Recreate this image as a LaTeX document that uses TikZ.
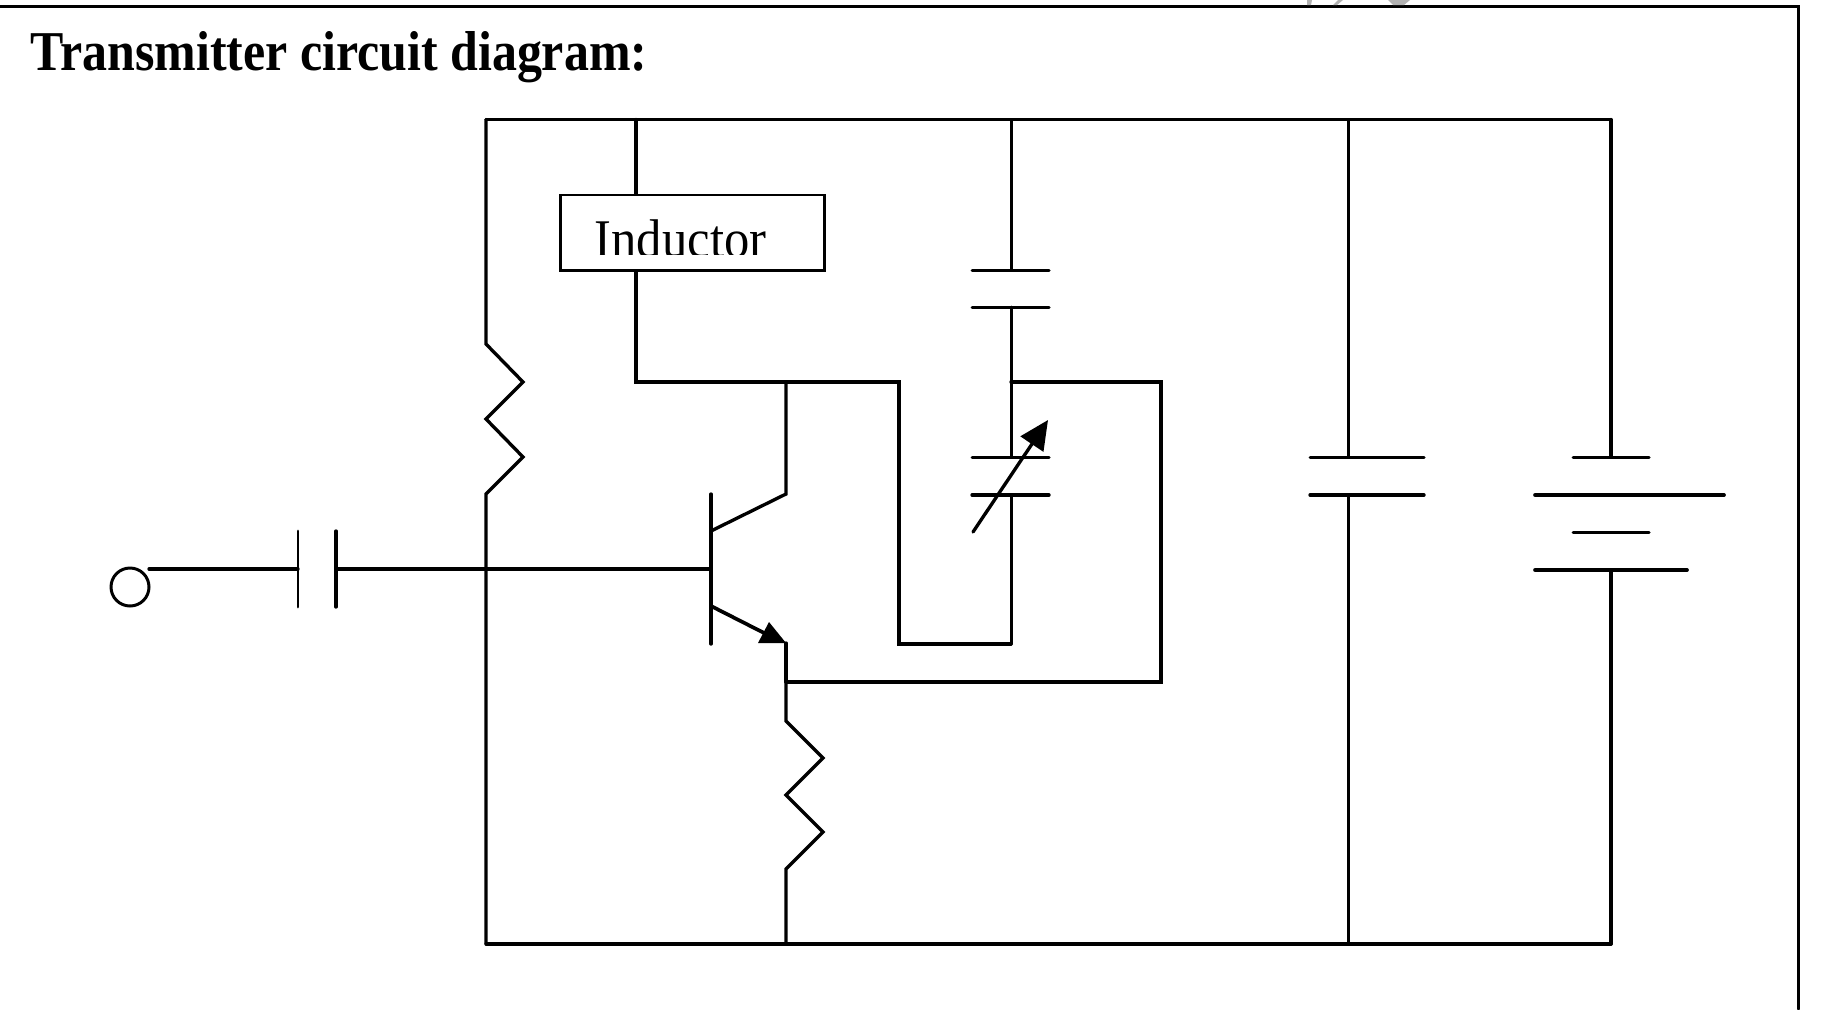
\documentclass[tikz,border=0pt]{standalone}
\usepackage{fontspec}
\setmainfont{Liberation Serif}
\newfontfamily\titlefont[FakeStretch=0.888]{Liberation Serif}
\newfontfamily\boxfont[FakeStretch=0.93]{Liberation Serif}
\usetikzlibrary{arrows.meta}

\tikzset{
  wire/.style={line width=0.95pt,line cap=round,line join=miter},
  thinwire/.style={line width=0.85pt,line cap=round},
  fatplate/.style={line width=1.05pt,line cap=round},
  head/.style={-{Triangle[length=0.29cm,width=0.27cm]}}
}

\begin{document}
\begin{tikzpicture}
        \useasboundingbox (0,0) rectangle (18.45,10.09);

        % outer frame, cut by the page
        \coordinate (frameL) at (0,10.025);
        \coordinate (frameC) at (17.985,10.025);
        \coordinate (frameB) at (17.985,0);
        \draw[wire] (frameL) -- (frameC) -- (frameB);

        % scrap of a mark above the frame
        \fill[black!30] (13.07,10.09) -- (13.12,10.09) -- (13.11,10.04) -- (13.07,10.04) -- cycle;
        \fill[black!30] (13.38,10.09) -- (13.43,10.09) -- (13.37,10.04) -- (13.33,10.04) -- cycle;
        \fill[black!30] (13.88,10.09) -- (14.10,10.09) -- (14.04,10.04) -- (13.93,10.04) -- cycle;

        % corners and junctions
        \coordinate (topL) at (4.86,8.895);
        \coordinate (topI) at (6.36,8.895);
        \coordinate (topC) at (10.11,8.895);
        \coordinate (topK) at (13.48,8.895);
        \coordinate (topR) at (16.11,8.895);
        \coordinate (botL) at (4.86,0.65);
        \coordinate (botE) at (7.86,0.65);
        \coordinate (botK) at (13.48,0.65);
        \coordinate (botR) at (16.11,0.65);
        \coordinate (baseJ) at (4.86,4.40);
        \coordinate (collJ) at (7.86,6.27);
        \coordinate (indL) at (6.36,6.27);
        \coordinate (loopT) at (8.99,6.27);
        \coordinate (loopB) at (8.99,3.65);
        \coordinate (capJ) at (10.11,6.27);
        \coordinate (capB) at (10.11,3.65);
        \coordinate (tankT) at (11.61,6.27);
        \coordinate (tankB) at (11.61,3.27);
        \coordinate (emitJ) at (7.86,3.27);

        \node[draw,thinwire,minimum width=2.64cm,minimum height=0.75cm,inner sep=0pt] (inductor) at (6.92,7.765) {};
        \begin{scope}
          \clip (5.80,7.55) rectangle (7.90,8.20);
          \node[anchor=base west,inner sep=0pt,font=\boxfont\fontsize{15.5}{15.5}\selectfont] (inductorlabel) at (5.94,7.52) {Inductor};
        \end{scope}
        \node[anchor=base west,inner sep=0pt,font=\titlefont\bfseries\fontsize{16}{16}\selectfont] (heading) at (0.30,9.39) {Transmitter circuit diagram:};

        % supply rails
        \draw[wire] (topL) -- (topR);
        \draw[wire] (botL) -- (botR);

        % left resistor
        \draw[wire] (topL) -- (4.86,6.65) -- (5.23,6.27) -- (4.86,5.90) -- (5.23,5.52) -- (4.86,5.15) -- (baseJ) -- (botL);

        % inductor branch
        \draw[wire] (topI) -- (inductor.north -| topI);
        \draw[wire] (inductor.south -| topI) -- (indL) -- (loopT) -- (loopB) -- (capB);

        % input
        \node[draw,thinwire,circle,minimum size=0.38cm,inner sep=0pt] (input) at (1.30,4.22) {};
        \coordinate (inEnd) at (1.49,4.40);
        \coordinate (plateA) at (2.98,4.40);
        \coordinate (plateB) at (3.36,4.40);
        \coordinate (baseB) at (7.11,4.40);
        \draw[wire] (inEnd) -- (plateA);
        \draw[thinwire] (2.98,4.78) -- (2.98,4.02);
        \draw[wire] (3.36,4.78) -- (3.36,4.02);
        \draw[wire] (plateB) -- (baseB);

        % transistor
        \draw[wire] (7.11,5.15) -- (7.11,3.65);
        \draw[wire] (collJ) -- (7.86,5.15) -- (7.11,4.78);
        \draw[line width=1.05pt] (7.11,4.03) -- (7.72,3.72);
        \fill (7.58,3.66) -- (7.86,3.66) -- (7.69,3.87) -- cycle;
        \draw[wire] (7.86,3.66) -- (emitJ);
        \draw[wire] (emitJ) -- (7.86,2.88) -- (8.23,2.51) -- (7.86,2.14) -- (8.23,1.77) -- (7.86,1.40) -- (botE);

        % tank loop
        \draw[wire] (emitJ) -- (tankB) -- (tankT) -- (capJ);

        % series capacitor
        \draw[thinwire] (topC) -- (10.11,7.39);
        \draw[thinwire] (9.72,7.39) -- (10.49,7.39);
        \draw[thinwire] (9.72,7.02) -- (10.49,7.02);
        \draw[thinwire] (10.11,7.02) -- (capJ) -- (10.11,5.52);

        % variable capacitor
        \draw[thinwire] (9.72,5.52) -- (10.49,5.52);
        \draw[wire] (9.72,5.14) -- (10.49,5.14);
        \draw[thinwire] (10.11,5.14) -- (capB);
        \draw[wire,head] (9.73,4.77) -- (10.48,5.89);

        % big capacitor
        \draw[thinwire] (topK) -- (13.48,5.52);
        \draw[thinwire] (13.10,5.52) -- (14.24,5.52);
        \draw[wire] (13.10,5.14) -- (14.24,5.14);
        \draw[thinwire] (13.48,5.14) -- (botK);

        % battery
        \draw[wire] (topR) -- (16.11,5.52);
        \draw[thinwire] (15.73,5.52) -- (16.49,5.52);
        \draw[fatplate] (15.35,5.14) -- (17.24,5.14);
        \draw[thinwire] (15.73,4.77) -- (16.49,4.77);
        \draw[fatplate] (15.35,4.39) -- (16.87,4.39);
        \draw[wire] (16.11,4.39) -- (botR);
\end{tikzpicture}
\end{document}
